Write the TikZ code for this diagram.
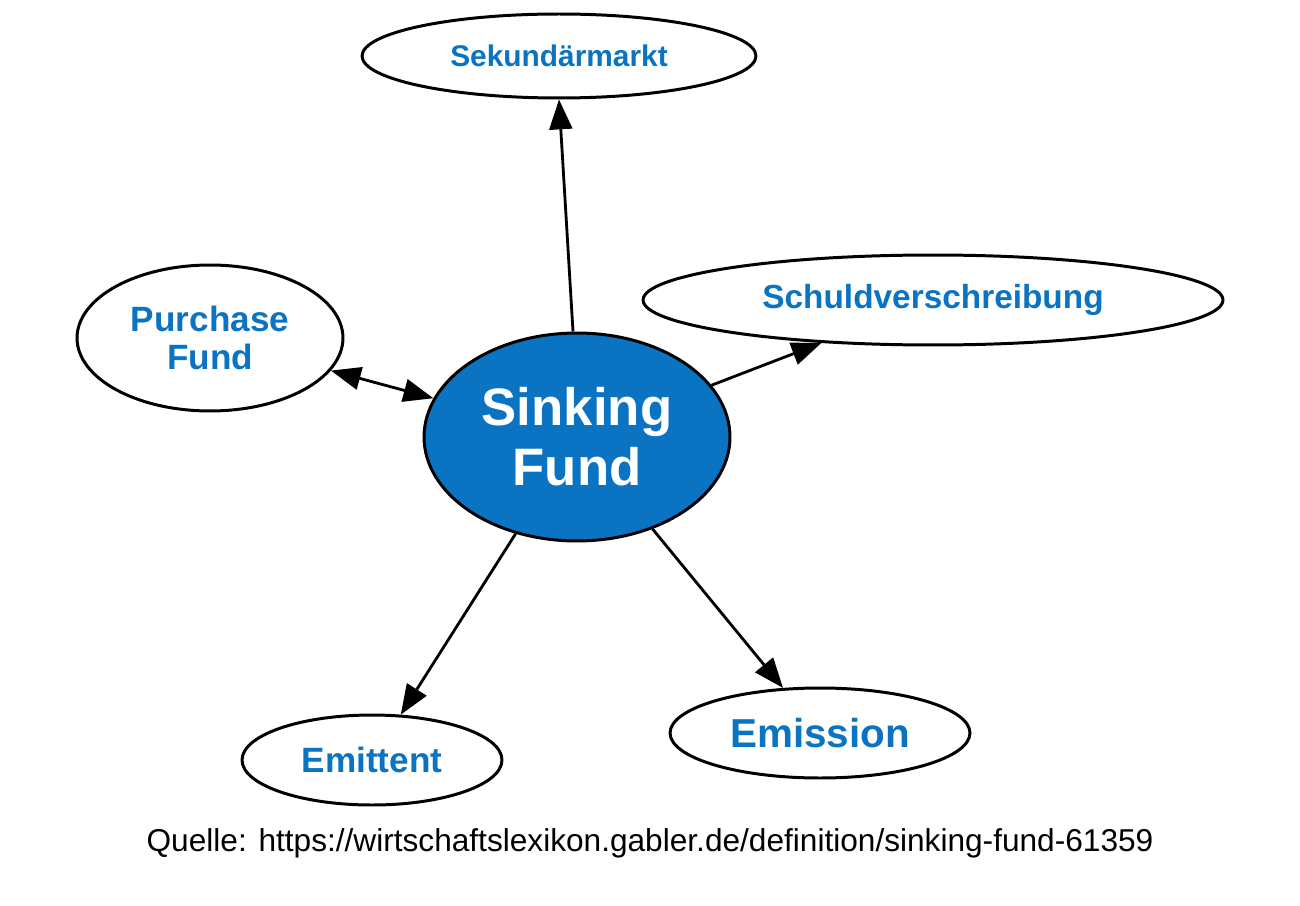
\documentclass[tikz,border=0pt]{standalone}
\usepackage{fontspec}
\setmainfont{Liberation Sans}
\usetikzlibrary{shapes.geometric,arrows.meta}
\definecolor{gblue}{HTML}{0A74C2}
\begin{document}
\begin{tikzpicture}[x=0.02cm,y=-0.02cm,
  el/.style={ellipse,draw=black,line width=1.7pt,inner sep=0pt,fill=white,text=gblue,font=\bfseries,align=center},
  arr/.style={line width=1.6pt,-{Triangle[length=17pt,width=13pt]}},
  darr/.style={line width=1.6pt,{Triangle[length=17pt,width=13pt]}-{Triangle[length=17pt,width=13pt]}}]
\useasboundingbox (0,0) rectangle (1300,905);
\node[el,minimum width=7.88cm,minimum height=1.68cm,font=\bfseries\fontsize{17}{20}\selectfont] (sek) at (559,56) {Sekundärmarkt};
\node[el,minimum width=11.6cm,minimum height=1.8cm,font=\bfseries\fontsize{19}{22}\selectfont] (sch) at (933,300) {Schuldverschreibung};
\node[el,minimum width=5.32cm,minimum height=2.92cm,font=\bfseries\fontsize{20}{22}\selectfont] (pur) at (210,338) {Purchase\\Fund};
\node[el,fill=gblue,text=white,minimum width=6.12cm,minimum height=4.16cm,font=\bfseries\fontsize{30}{34}\selectfont] (sf) at (577,437) {Sinking\\Fund};
\node[el,minimum width=5.2cm,minimum height=1.8cm,font=\bfseries\fontsize{20}{22}\selectfont] (emt) at (372,760) {Emittent};
\node[el,minimum width=6cm,minimum height=1.8cm,font=\bfseries\fontsize{23}{26}\selectfont] (emi) at (820,733) {Emission};
\node[font=\fontsize{18}{20}\selectfont] (q) at (650,843) {Quelle: https://wirtschaftslexikon.gabler.de/definition/sinking-fund-61359};
\draw[arr] (sf.north) ++(-4,0) coordinate (a1) -- (sek.south);
\draw[arr] (sf) -- (sch);
\draw[darr] (pur) -- (sf);
\draw[arr] (sf) -- (emt);
\draw[arr] (sf) -- (emi);
\end{tikzpicture}
\end{document}
